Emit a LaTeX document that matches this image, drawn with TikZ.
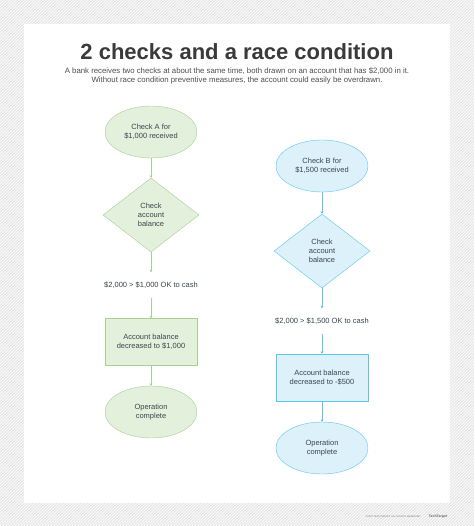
\documentclass[tikz,border=0pt]{standalone}
\usepackage{fontspec}
\setmainfont{Liberation Sans}
\usetikzlibrary{shapes.geometric,arrows.meta,patterns}

\definecolor{ink}{HTML}{3B4650}
\definecolor{titleink}{HTML}{3A3A3A}
\definecolor{greenfill}{HTML}{E3F0DB}
\definecolor{greenline}{HTML}{A9CF94}
\definecolor{bluefill}{HTML}{DDF1FA}
\definecolor{blueline}{HTML}{5CC6EA}
\definecolor{backdrop}{HTML}{E9E9E9}

\tikzset{
  base/.style={draw,thin,text=ink,font=\fontsize{7.5}{9}\selectfont,align=center,inner sep=0pt},
  startend/.style={base,ellipse,minimum width=92pt,minimum height=52pt},
  decision/.style={base,diamond,minimum width=96pt,minimum height=74pt},
  process/.style={base,rectangle,minimum width=92pt,minimum height=47pt},
  result/.style={text=ink,font=\fontsize{7.5}{9}\selectfont,inner sep=0pt,minimum height=25pt},
  flow/.style={semithick,-{Stealth[length=2.5pt,width=3pt]}},
}

\begin{document}
\begin{tikzpicture}[x=1pt,y=-1pt]
\useasboundingbox (0,0) rectangle (474,526);
\fill[backdrop] (0,0) rectangle (474,526);
\fill[pattern=north east lines,pattern color=white] (0,0) rectangle (474,526);
\fill[white] (24,24) rectangle (450,503);

\node[text=titleink,font=\fontsize{22}{26}\selectfont\bfseries] (title) at (237,52) {2 checks and a race condition};
\node[text=titleink!90,font=\fontsize{7.8}{9}\selectfont,align=center] (intro) at (237,75.5)
  {A bank receives two checks at about the same time, both drawn on an account that has \$2,000 in it.\\
   Without race condition preventive measures, the account could easily be overdrawn.};

% check A
\node[startend,fill=greenfill,draw=greenline] (chkA) at (151,132) {Check A for\\\$1,000 received};
\node[decision,fill=greenfill,draw=greenline] (balA) at (151,215) {Check\\account\\balance};
\node[result] (okA) at (151,285) {\$2,000 > \$1,000 OK to cash};
\node[process,fill=greenfill,draw=greenline] (decA) at (151,342) {Account balance\\decreased to \$1,000};
\node[startend,fill=greenfill,draw=greenline] (doneA) at (151,412) {Operation\\complete};

\draw[flow,greenline] (chkA) -- (balA);
\draw[flow,greenline] (balA) -- (okA);
\draw[flow,greenline] (okA) -- (decA);
\draw[flow,greenline] (decA) -- (doneA);

% check B
\node[startend,fill=bluefill,draw=blueline] (chkB) at (322,166) {Check B for\\\$1,500 received};
\node[decision,fill=bluefill,draw=blueline] (balB) at (322,251) {Check\\account\\balance};
\node[result] (okB) at (322,321) {\$2,000 > \$1,500 OK to cash};
\node[process,fill=bluefill,draw=blueline] (decB) at (322,377.5) {Account balance\\decreased to -\$500};
\node[startend,fill=bluefill,draw=blueline] (doneB) at (322,448) {Operation\\complete};

\draw[flow,blueline] (chkB) -- (balB);
\draw[flow,blueline] (balB) -- (okB);
\draw[flow,blueline] (okB) -- (decB);
\draw[flow,blueline] (decB) -- (doneB);

\node[text=gray,font=\fontsize{2.5}{3}\selectfont] (credit) at (393,517) {©2022 TECHTARGET. ALL RIGHTS RESERVED};
\node[text=gray!80!black,font=\fontsize{3.5}{4}\selectfont\bfseries] (logo) at (438,517) {TechTarget};
\end{tikzpicture}
\end{document}
